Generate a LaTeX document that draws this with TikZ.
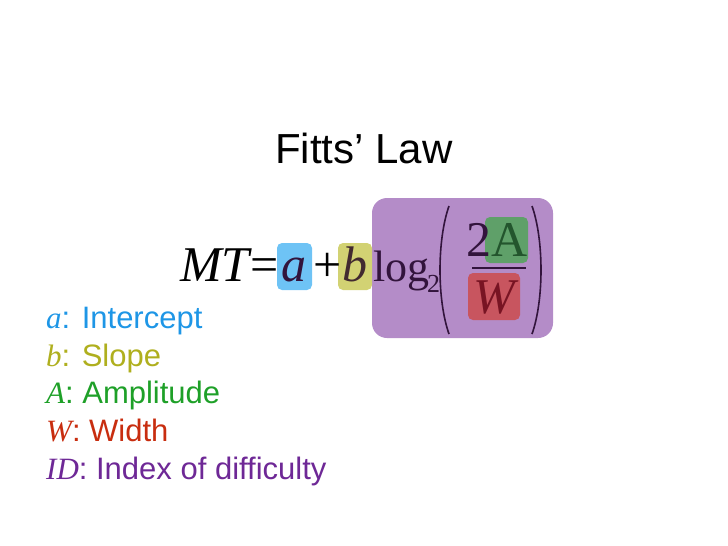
\documentclass[tikz,border=0pt]{standalone}
\usepackage{fontspec}
\setmainfont{Liberation Serif}
\newfontfamily\hel{Liberation Sans}
\definecolor{cblue}{RGB}{30,150,230}
\definecolor{colive}{RGB}{175,175,30}
\definecolor{cgreen}{RGB}{30,160,40}
\definecolor{cred}{RGB}{200,45,15}
\definecolor{cpurple}{RGB}{110,40,150}
\definecolor{bblue}{RGB}{110,195,245}
\definecolor{byellow}{RGB}{210,210,115}
\definecolor{bpurple}{RGB}{180,140,200}
\definecolor{bgreen}{RGB}{95,160,105}
\definecolor{bred}{RGB}{200,85,95}
\definecolor{tdark}{RGB}{50,20,60}
\definecolor{tgreen}{RGB}{35,85,45}
\definecolor{tred}{RGB}{120,20,35}
\begin{document}
\begin{tikzpicture}[x=1pt,y=-1pt,
  box/.style={rounded corners=5pt},
  paren/.style={tdark,line width=1.6pt},
  eq/.style={anchor=base,inner sep=0pt,font=\fontsize{50}{50}\selectfont},
  leg/.style={anchor=base west,inner sep=0pt,font=\fontsize{31}{33}\selectfont}]
\useasboundingbox (0,0) rectangle (728,546);
\fill[bpurple,rounded corners=15pt] (372,198) rectangle (553,338);
\fill[bblue,box] (277,243) rectangle (312,290);
\fill[byellow,box] (338,243) rectangle (372,290);
\fill[bgreen,box] (485,217) rectangle (528,263);
\fill[bred,box] (468,273) rectangle (520,320);
\node[anchor=base,inner sep=0pt,font=\hel\fontsize{42}{44}\selectfont] (title) at (364,163) {Fitts’ Law};
\node[eq,anchor=base west] (mt) at (180,281) {\itshape MT};
\node[eq,anchor=base west] (eqs) at (250,281) {=};
\node[eq,text=tdark] (a) at (294,281) {\itshape a};
\node[eq,anchor=base west] (plus) at (313,281) {+};
\node[eq,text=tdark!80!olive] (b) at (355,281) {\itshape b};
\node[eq,anchor=base west,text=tdark,font=\fontsize{44}{44}\selectfont] (log) at (373,281) {log};
\node[anchor=base west,inner sep=0pt,text=tdark,font=\fontsize{26}{26}\selectfont] (two) at (427,292) {2};
\coordinate (lpt) at (449,206); \coordinate (lpb) at (449,334);
\coordinate (rpt) at (532,206); \coordinate (rpb) at (532,334);
\draw[paren] (lpt) .. controls (437,240) and (437,300) .. (lpb);
\draw[paren] (rpt) .. controls (544,240) and (544,300) .. (rpb);
\node[eq,text=tdark] (num) at (497,256) {2\textcolor{tgreen}{A}};
\coordinate (bl) at (472,268); \coordinate (br) at (526,268);
\draw[tdark,line width=2pt] (bl) -- (br);
\node[eq,text=tred] (den) at (494,313) {\itshape W};
\node[leg] (l1) at (46,328) {\textcolor{cblue}{\itshape a}\hel\textcolor{cblue}{: Intercept}};
\node[leg] (l2) at (46,366) {\textcolor{colive}{\itshape b}\hel\textcolor{colive}{: Slope}};
\node[leg] (l3) at (46,403) {\textcolor{cgreen}{\itshape A}\hel\textcolor{cgreen}{: Amplitude}};
\node[leg] (l4) at (46,441) {\textcolor{cred}{\itshape W}\hel\textcolor{cred}{: Width}};
\node[leg] (l5) at (46,479) {\textcolor{cpurple}{\itshape ID}\hel\textcolor{cpurple}{: Index of difficulty}};
\end{tikzpicture}
\end{document}
